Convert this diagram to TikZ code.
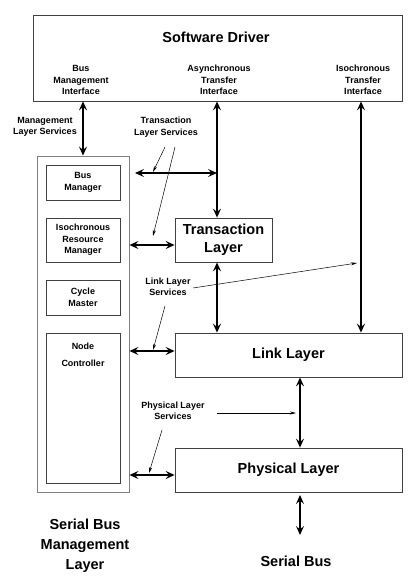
\documentclass[tikz,border=0pt]{standalone}
\usepackage{fontspec}
\setmainfont{Liberation Sans}
\usetikzlibrary{arrows.meta}
\tikzset{
  box/.style={draw=black!75, line width=0.8pt, inner sep=0pt, align=center},
  outerbox/.style={draw=black!50, line width=0.9pt, inner sep=0pt},
  small/.style={font=\fontsize{9}{11.5}\selectfont\bfseries, align=center, inner sep=0pt},
  big/.style={font=\fontsize{14.5}{17.5}\selectfont\bfseries, align=center, inner sep=0pt},
  bigarrow/.style={line width=2pt, {Stealth[length=9pt,width=8pt,inset=3.5pt]}-{Stealth[length=9pt,width=8pt,inset=3.5pt]}},
  midarrow/.style={line width=1.5pt, {Stealth[length=9pt,width=8pt,inset=3.5pt]}-{Stealth[length=9pt,width=8pt,inset=3.5pt]}},
  thinarrow/.style={line width=0.5pt, -{Stealth[length=6pt,width=3pt]}}
}
\begin{document}
\begin{tikzpicture}[x=1pt,y=-1pt]
\useasboundingbox (0,0) rectangle (416,585);
% boxes
\node[box, minimum width=369pt, minimum height=86pt] (sd) at (217.5,58) {};
\node[outerbox, minimum width=92pt, minimum height=336pt] (mgmt) at (83,324) {};
\node[box, minimum width=74pt, minimum height=35pt, small] (bm) at (83,182.5) {Bus\\Manager};
\node[box, minimum width=74pt, minimum height=44pt, small] (irm) at (83,240) {Isochronous\\Resource\\Manager};
\node[box, minimum width=74pt, minimum height=35pt, small] (cm) at (83,297.5) {Cycle\\Master};
\node[box, minimum width=74pt, minimum height=150pt] (nc) at (83,408) {};
\node[small, font=\fontsize{9}{17}\selectfont\bfseries] (nct) at (83,354.5) {Node\\Controller};
\node[box, minimum width=97pt, minimum height=44pt, big] (tl) at (223.5,240) {Transaction\\Layer};
\node[box, minimum width=227pt, minimum height=44pt, big] (ll) at (288.5,355) {Link Layer};
\node[box, minimum width=227pt, minimum height=44pt, big] (pl) at (288.5,470) {Physical Layer};
% texts
\node[big] (sdt) at (216,37) {Software Driver};
\node[small] (bmi) at (81,80) {Bus\\Management\\Interface};
\node[small] (ati) at (219,80) {Asynchronous\\Transfer\\Interface};
\node[small] (iti) at (363,80) {Isochronous\\Transfer\\Interface};
\node[small] (mls) at (45,127) {Management\\Layer Services};
\node[small] (tls) at (166,127) {Transaction\\Layer Services};
\node[small] (lls) at (168,287) {Link Layer\\Services};
\node[small] (pls) at (173,411) {Physical Layer\\Services};
\node[big, font=\fontsize{14.5}{20}\selectfont\bfseries] (sbml) at (85,546) {Serial Bus\\Management\\Layer};
\node[big] (sb) at (296,561) {Serial Bus};
% coordinates
\coordinate (ax) at (217,0);
\coordinate (ix) at (361,0);
\coordinate (px) at (300,0);
\coordinate (bmL) at (135,173);
\coordinate (bmR) at (217,173);
\coordinate (irmY) at (0,245);
\coordinate (ncY) at (0,351);
\coordinate (plY) at (0,475);
\coordinate (sbA) at (300,495);
\coordinate (sbB) at (300,535);
% thick arrows
\draw[bigarrow] (mgmt.north |- sd.south) -- (mgmt.north);
\draw[bigarrow] (sd.south -| ax) -- (tl.north -| ax);
\draw[bigarrow] (bmL) -- (bmR);
\draw[bigarrow] (sd.south -| ix) -- (ll.north -| ix);
\draw[midarrow] (mgmt.east |- irmY) -- (tl.west |- irmY);
\draw[bigarrow] (tl.south -| ax) -- (ll.north -| ax);
\draw[midarrow] (mgmt.east |- ncY) -- (ll.west |- ncY);
\draw[bigarrow] (ll.south -| px) -- (pl.north -| px);
\draw[midarrow] (mgmt.east |- plY) -- (pl.west |- plY);
\draw[bigarrow] (sbA) -- (sbB);
% thin arrows
\coordinate (t1a) at (165,147); \coordinate (t1b) at (153,172);
\coordinate (t2a) at (175,147); \coordinate (t2b) at (153,236);
\coordinate (l1a) at (193,288); \coordinate (l1b) at (357,263);
\coordinate (l2a) at (165,306); \coordinate (l2b) at (153,350);
\coordinate (p1a) at (217,413); \coordinate (p1b) at (296,413);
\coordinate (p2a) at (162,430); \coordinate (p2b) at (149,473);
\draw[thinarrow] (t1a) -- (t1b);
\draw[thinarrow] (t2a) -- (t2b);
\draw[thinarrow] (l1a) -- (l1b);
\draw[thinarrow] (l2a) -- (l2b);
\draw[thinarrow] (p1a) -- (p1b);
\draw[thinarrow] (p2a) -- (p2b);
\end{tikzpicture}
\end{document}
